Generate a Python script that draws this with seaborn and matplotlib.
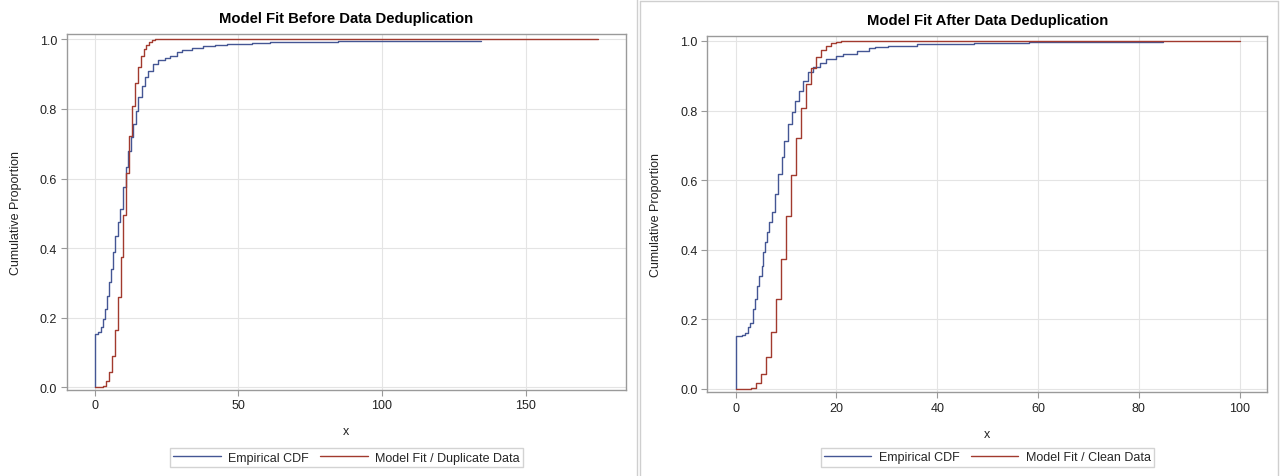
import numpy as np
import pandas as pd
import matplotlib
matplotlib.use("Agg")
import matplotlib.pyplot as plt
from matplotlib.lines import Line2D
import seaborn as sns

# ---------------- data ----------------
# Fitted model CDF (discrete), same in both panels
model_x = [0, 3, 4, 5, 6, 7, 8, 9, 10, 11, 12, 13, 14, 15, 16, 17, 18, 19, 20, 21]
model_y = [0.0, 0.004, 0.017, 0.043, 0.091, 0.164, 0.259, 0.374, 0.496, 0.615,
           0.721, 0.807, 0.875, 0.921, 0.953, 0.973, 0.985, 0.993, 0.997, 1.0]

# Empirical CDF, before deduplication
ecdf_before_x = [0, 0, 1.26, 2.2, 3.0, 3.6, 4.4, 5.1, 5.67, 6.5, 7.07, 8.0, 8.8, 9.97,
                 10.8, 11.7, 12.5, 13.4, 14.3, 15.2, 16.4, 17.5, 18.7, 20.4, 22.1,
                 24.5, 26.2, 28.5, 30.5, 33.8, 37.8, 41.9, 45.9, 54.6, 61.0, 84.8, 134.4]
ecdf_before_y = [0.0, 0.152, 0.158, 0.172, 0.196, 0.225, 0.263, 0.302, 0.34, 0.388,
                 0.436, 0.474, 0.512, 0.575, 0.632, 0.68, 0.718, 0.757, 0.795, 0.833,
                 0.867, 0.891, 0.91, 0.929, 0.94, 0.946, 0.953, 0.963, 0.970, 0.975,
                 0.98, 0.984, 0.987, 0.99, 0.993, 0.996, 0.996]

# Empirical CDF, after deduplication
ecdf_after_x = [0, 0, 1.25, 1.9, 2.5, 2.83, 3.36, 3.8, 4.28, 4.68, 5.14, 5.47, 5.8, 6.14,
                6.6, 7.13, 7.78, 8.44, 9.1, 9.63, 10.4, 11.1, 11.75, 12.5, 13.4, 14.4,
                15.4, 16.7, 18.0, 20.0, 21.3, 24.0, 26.4, 27.6, 28.6, 30.3, 36.0, 47.3,
                58.2, 84.8]
ecdf_after_y = [0.0, 0.152, 0.155, 0.161, 0.177, 0.19, 0.23, 0.259, 0.297, 0.326, 0.354,
                0.393, 0.421, 0.45, 0.479, 0.51, 0.56, 0.618, 0.666, 0.713, 0.761,
                0.795, 0.829, 0.857, 0.886, 0.91, 0.924, 0.938, 0.948, 0.958, 0.964,
                0.972, 0.979, 0.982, 0.984, 0.987, 0.99, 0.993, 0.996, 0.996]

titles = ["Model Fit Before Data Deduplication", "Model Fit After Data Deduplication"]
model_labels = ["Model Fit / Duplicate Data", "Model Fit / Clean Data"]
x_max_model = [175, 100]
xticks_list = [[0, 50, 100, 150], [0, 20, 40, 60, 80, 100]]
yticks = [0.0, 0.2, 0.4, 0.6, 0.8, 1.0]

# ---------------- style ----------------
sns.set_theme(style="white")
plt.rcParams["font.family"] = ["Liberation Sans", "DejaVu Sans"]

BLUE = "#445694"
RED = "#A23A2E"
GRID = "#e4e4e4"
SPINE = "#9a9a9a"

fig = plt.figure(figsize=(12.81, 4.77), dpi=100)
W, H = 1281, 477

def px_axes(l, t, r, b):
    return fig.add_axes([l / W, 1 - b / H, (r - l) / W, (b - t) / H])

ax_list = [px_axes(66.7, 35.3, 626, 390.7), px_axes(707.3, 37.3, 1267.3, 393.3)]
xlims = [(-9.75, 184.9), (-5.63, 105.5)]
ylims = [(-0.0069, 1.0144), (-0.0095, 1.0135)]
ecdf_data = [(ecdf_before_x, ecdf_before_y), (ecdf_after_x, ecdf_after_y)]
legend_y = [-0.191, -0.183]

for i, ax in enumerate(ax_list):
    ex, ey = ecdf_data[i]
    df_e = pd.DataFrame({"x": ex, "y": ey})
    mx = list(model_x) + [x_max_model[i]]
    my = list(model_y) + [model_y[-1]]
    df_m = pd.DataFrame({"x": mx, "y": my})

    sns.lineplot(data=df_e, x="x", y="y", ax=ax, color=BLUE, lw=1.0,
                 estimator=None, sort=False, drawstyle="steps-post",
                 label="Empirical CDF")
    sns.lineplot(data=df_m, x="x", y="y", ax=ax, color=RED, lw=1.0,
                 estimator=None, sort=False, drawstyle="steps-post",
                 label=model_labels[i])

    ax.set_xlim(*xlims[i])
    ax.set_ylim(*ylims[i])
    ax.set_xticks(xticks_list[i])
    ax.set_yticks(yticks)
    ax.set_yticklabels([f"{v:.1f}" for v in yticks])
    ax.grid(True, color=GRID, lw=0.8)
    ax.set_axisbelow(True)
    for s in ax.spines.values():
        s.set_color(SPINE)
        s.set_linewidth(1.0)
    ax.tick_params(axis="both", which="major", length=4, width=0.8, color=SPINE,
                   labelsize=9, labelcolor="#222222", pad=3,
                   bottom=True, left=True, top=False, right=False)
    ax.set_title(titles[i], fontsize=10.75, fontweight="bold", color="black", pad=9)
    ax.set_xlabel("x", fontsize=9, color="#222222", labelpad=10)
    ax.set_ylabel("Cumulative Proportion", fontsize=9, color="#222222", labelpad=13)

    leg = ax.legend(loc="center", bbox_to_anchor=(0.5, legend_y[i]), ncol=2,
                    frameon=True, fancybox=False, fontsize=9,
                    handlelength=3.8, handletextpad=0.6, columnspacing=0.9,
                    borderpad=0.25, edgecolor="#c8c8c8")
    leg.get_frame().set_linewidth(1.0)

# panel separators / border of right panel
def fline(x0, y0, x1, y1, c="#cfcfcf"):
    fig.add_artist(Line2D([x0 / W, x1 / W], [1 - y0 / H, 1 - y1 / H],
                          transform=fig.transFigure, color=c, lw=1.0))

fline(637, 0, 637, 477)
fline(639.5, 1.5, 639.5, 477)
fline(639.5, 1.5, 1278, 1.5)
fline(1278, 1.5, 1278, 477)

fig.savefig("out.png", dpi=100, facecolor="white")
